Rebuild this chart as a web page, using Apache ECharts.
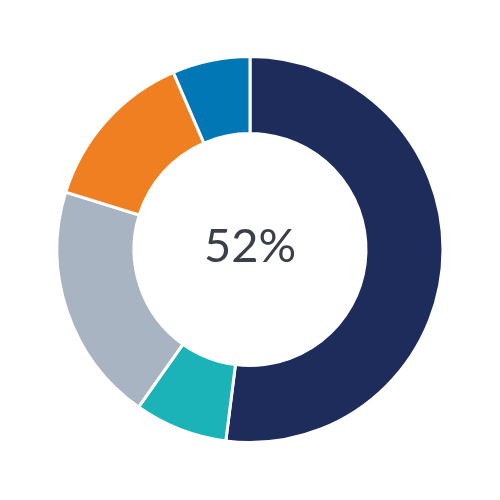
<!DOCTYPE html>
<html>
<head>
<meta charset="utf-8">
<script src="https://cdn.jsdelivr.net/npm/echarts@6/dist/echarts.min.js"></script>
<style>html,body{margin:0;padding:0;background:#fff}#c{width:500px;height:500px}</style>
</head>
<body>
<div id="c"></div>
<script>
const categories = ['A', 'B', 'C', 'D', 'E'];
const values = [52, 7.8, 20, 13.7, 6.5];
const colors = ['#1e2c5b', '#1bb3b8', '#a9b4c2', '#f07f22', '#0277b5'];
const centerLabel = '52%';

const chart = echarts.init(document.getElementById('c'), null, {renderer: 'canvas'});
chart.setOption({
  animation: false,
  graphic: [{
    type: 'text',
    x: 250,
    y: 247,
    style: {
      text: centerLabel,
      font: '47px Lato',
      fill: '#3a3f4a',
      align: 'center',
      verticalAlign: 'middle'
    }
  }],
  series: [{
    type: 'pie',
    center: [250, 249.5],
    radius: [116, 193],
    startAngle: 90,
    clockwise: true,
    label: {show: false},
    labelLine: {show: false},
    emphasis: {disabled: true},
    itemStyle: {borderColor: '#fff', borderWidth: 3},
    data: categories.map((c, i) => ({name: c, value: values[i], itemStyle: {color: colors[i]}}))
  }]
});
</script>
</body>
</html>
